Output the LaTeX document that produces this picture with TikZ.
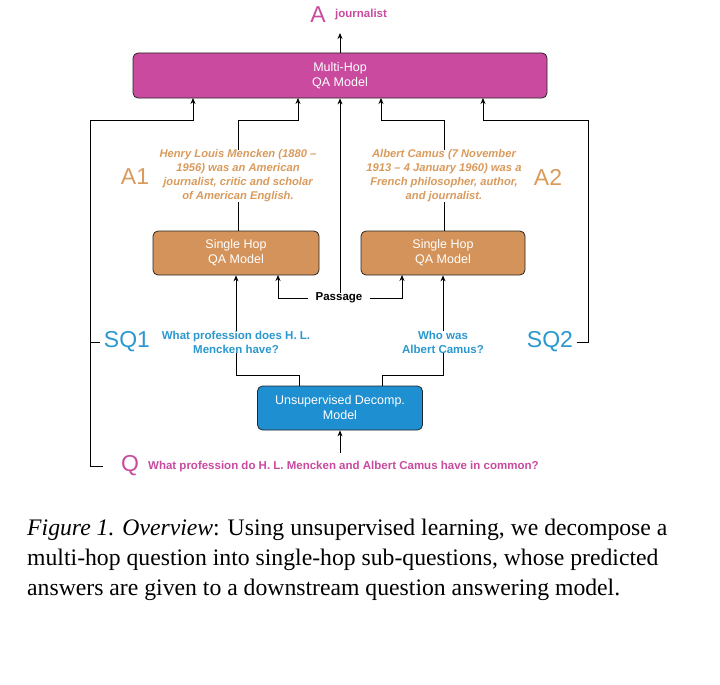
\documentclass[tikz,border=0pt]{standalone}
\usepackage{fontspec}
\setmainfont{Liberation Serif}
\newfontfamily\sfont{Liberation Sans}
\usetikzlibrary{arrows.meta}
\definecolor{mpink}{HTML}{C94A9E}
\definecolor{morange}{HTML}{D4935A}
\definecolor{mblue}{HTML}{1E8FD0}
\definecolor{torange}{HTML}{D99A5C}
\definecolor{tblue}{HTML}{2A98CF}
\begin{document}
\begin{tikzpicture}[x=1pt,y=-1pt,
 box/.style={draw=black!85,line width=0.8pt,rounded corners=5pt,text=white,font=\sfont\fontsize{12.5}{15}\selectfont,align=center,inner sep=0pt},
 ln/.style={line width=0.8pt},
 ar/.style={ln,-{Stealth[length=6pt,width=5pt]}},
 big/.style={font=\sfont\fontsize{23}{25}\selectfont},
 sm/.style={font=\sfont\bfseries\fontsize{11.5}{14}\selectfont,align=center,inner sep=0pt}]
\useasboundingbox (0,0) rectangle (720,685);
\node[box,fill=mpink,minimum width=414pt,minimum height=45pt] (mh) at (340,75.5) {Multi-Hop\\QA Model};
\node[box,fill=morange,minimum width=166pt,minimum height=44pt] (s1) at (236,253) {Single Hop\\QA Model};
\node[box,fill=morange,minimum width=164pt,minimum height=44pt] (s2) at (443,253) {Single Hop\\QA Model};
\node[box,fill=mblue,minimum width=165pt,minimum height=44pt] (dc) at (340,408) {Unsupervised Decomp.\\Model};
\node[big,text=mpink] (A) at (318,15) {A};
\node[sm,text=mpink,anchor=west] (jo) at (335,15) {journalist};
\coordinate (atop) at (340,33);
\draw[ar] (mh.north) -- (atop);
\node[big,text=torange] (A1) at (135,177) {A1};
\node[big,text=torange] (A2) at (548,177) {A2};
\node[sm,text=torange,font=\sfont\bfseries\itshape\fontsize{11.2}{14}\selectfont] (t1) at (238,176) {Henry Louis Mencken (1880 –\\1956) was an American\\journalist, critic and scholar\\of American English.};
\node[sm,text=torange,font=\sfont\bfseries\itshape\fontsize{11.2}{14}\selectfont] (t2) at (444,176) {Albert Camus (7 November\\1913 – 4 January 1960) was a\\French philosopher, author,\\and journalist.};
\node[big,text=tblue] (SQ1) at (127,342) {SQ1};
\node[big,text=tblue] (SQ2) at (550,342) {SQ2};
\node[sm,text=tblue] (q1) at (236,342) {What profession does H. L.\\Mencken have?};
\node[sm,text=tblue] (q2) at (443,342) {Who was\\Albert Camus?};
\node[sm,inner xsep=7pt] (ps) at (339,298) {Passage};
\node[big,text=mpink] (Q) at (130,466) {Q};
\node[sm,text=mpink,anchor=west] (qq) at (148,467) {What profession do H. L. Mencken and Albert Camus have in common?};
\draw[ar] (Q.west) ++(-15,0) coordinate(qw) -- (90,466) -- (90,120) -- (193,120) -- (193,98);
\draw[ln] (SQ1.west) -- (90,342);
\draw[ar] (SQ2.east) -- (588,342) -- (588,120) -- (483,120) -- (483,98);
\draw[ar] (t1.north) -- (238,120) -- (298,120) -- (298,98);
\draw[ar] (t2.north) -- (444,120) -- (381,120) -- (381,98);
\draw[ln] (s1.north -| t1) -- (t1.south);
\draw[ln] (s2.north -| t2) -- (t2.south);
\draw[ar] (ps.north -| mh) -- (mh.south);
\draw[ar] (ps.west) -- (278,298) -- (278,275);
\draw[ar] (ps.east) -- (402,298) -- (402,275);
\draw[ar] (q1.north) -- (s1.south);
\draw[ar] (q2.north) -- (s2.south);
\draw[ln] (q1.south) -- (236,375) -- (299,375) -- (299,386);
\draw[ln] (q2.south) -- (443,375) -- (382,375) -- (382,386);
\coordinate (qin) at (340,453);
\draw[ar] (qin) -- (dc.south);
\node[anchor=north west,inner sep=0pt,font=\fontsize{23.7}{30}\selectfont,align=left] (cap) at (27,519) {\textit{Figure 1. Overview}: Using unsupervised learning, we decompose a\\multi-hop question into single-hop sub-questions, whose predicted\\answers are given to a downstream question answering model.};
\end{tikzpicture}
\end{document}
